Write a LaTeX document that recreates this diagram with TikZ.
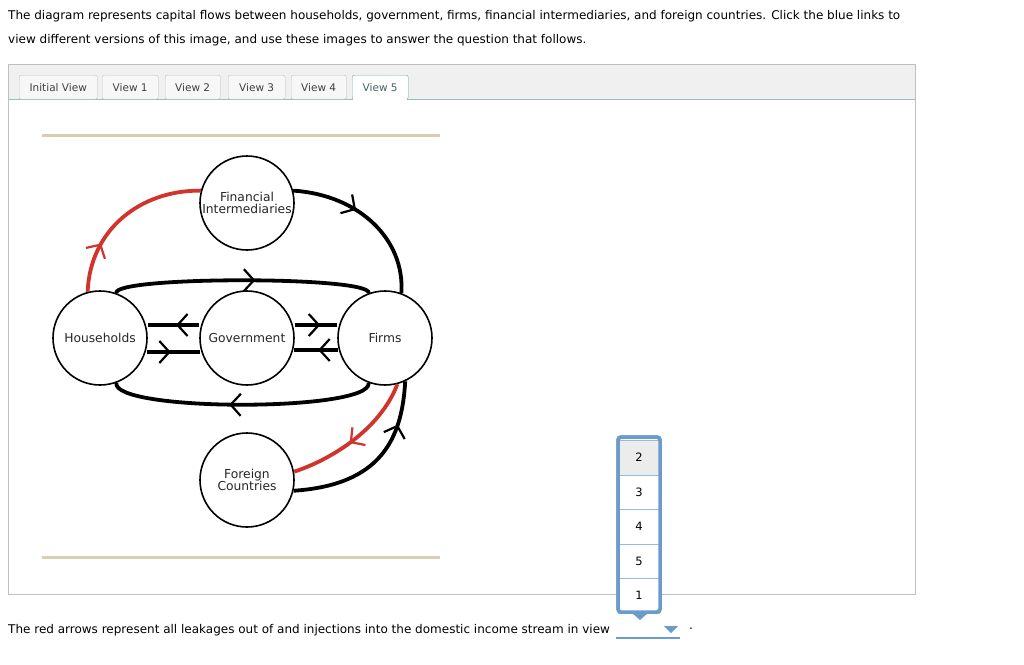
\documentclass[tikz,border=0pt]{standalone}
\usepackage{fontspec}
\setmainfont{DejaVu Sans}
\usetikzlibrary{arrows.meta,decorations.markings}
\definecolor{beige}{HTML}{D9CFB0}
\definecolor{dd}{HTML}{6A9BCB}
\definecolor{redf}{HTML}{D0342C}
\definecolor{teal}{HTML}{6FA3A3}
\tikzset{
  circ/.style={circle,draw,line width=1.6pt,minimum size=94pt,inner sep=0pt,font=\fontsize{12.3}{14}\selectfont,align=center,text=black!85},
  flow/.style={line width=3.8pt},
  midarr/.style={postaction={decorate},decoration={markings,mark=at position #1 with {\arrow[line width=2.2pt]{Straight Barb[length=10pt,width=22pt]}}}},
  tab/.style={draw=gray!50,fill=gray!6,rounded corners=2pt,minimum height=24pt,anchor=north west,font=\fontsize{10.5}{12}\selectfont,text=black!75,inner sep=0pt},
  txt/.style={anchor=west,font=\fontsize{12}{14}\selectfont,inner sep=0pt},
  item/.style={draw=dd!70,fill=white,minimum width=41pt,minimum height=34.5pt,anchor=north,font=\fontsize{11.5}{13}\selectfont,inner sep=0pt}
}
\begin{document}
\begin{tikzpicture}[x=1pt,y=-1pt]
\useasboundingbox (0,0) rectangle (1024,664);
\fill[white] (0,0) rectangle (1024,664);
\node[txt] (t1) at (8,16) {The diagram represents capital flows between households, government, firms, financial intermediaries, and foreign countries. Click the blue links to};
\node[txt] (t2) at (8,40) {view different versions of this image, and use these images to answer the question that follows.};
% panel
\draw[gray!50,fill=white] (8,64) rectangle (915,594);
\fill[gray!12] (8.5,64.5) rectangle (914.5,99);
\draw[teal!70] (8,99) -- (915,99);
\node[tab,minimum width=78pt] (i0) at (19,75) {Initial View};
\node[tab,minimum width=56pt] (i1) at (102,75) {View 1};
\node[tab,minimum width=55pt] (i2) at (165,75) {View 2};
\node[tab,minimum width=57pt] (i3) at (228,75) {View 3};
\node[tab,minimum width=55pt] (i4) at (291,75) {View 4};
\node[tab,minimum width=56pt,fill=white,draw=teal,text=teal!60!black] (i5) at (352,75) {View 5};
\fill[white] (353,98.2) rectangle (407,100);
% beige lines
\draw[beige,line width=3pt] (42,135) -- (440,135);
\draw[beige,line width=3pt] (42,557) -- (440,557);
% nodes
\node[circ] (H) at (100,338) {Households};
\node[circ] (G) at (247,338) {Government};
\node[circ] (F) at (385,338) {Firms};
\node[circ] (FI) at (247,203) {Financial\\[-2pt]Intermediaries};
\node[circ] (FC) at (247,480) {Foreign\\[-2pt]Countries};
% horizontal flows
\draw[flow,midarr=0.45] (G.west|-0,325) -- (H.east|-0,325) coordinate (a1);
\draw[flow,midarr=0.45] ([xshift=-1pt]H.east|-0,352) -- ([xshift=1pt]G.west|-0,352);
\draw[flow,midarr=0.6] (G.east|-0,325) -- (F.west|-0,325);
\draw[flow,midarr=0.45] ([xshift=1pt]F.west|-0,350) -- ([xshift=-1pt]G.east|-0,350);
% top & bottom loops
\draw[flow,midarr=0.55] (H.70) .. controls (112,276) and (372,276) .. (F.110);
\draw[flow,midarr=0.55] (F.250) .. controls (372,412) and (112,412) .. (H.290);
% red flows
\draw[redf,flow,midarr=0.3] (H.105) .. controls (90,230) and (140,190) .. (FI.165);
\draw[redf,flow,midarr=0.55] (F.285) .. controls (380,430) and (330,460) .. (FC.10);
% black outer flows
\draw[flow,midarr=0.4] (FI.15) .. controls (360,195) and (405,240) .. (F.70);
\draw[flow,midarr=0.75] (FC.347) .. controls (380,485) and (402,440) .. (F.295);
% bottom question
\node[txt] (q) at (8,630) {The red arrows represent all leakages out of and injections into the domestic income stream in view};
\draw[dd,line width=1.2pt] (616,638) -- (680,638);
\fill[dd] (664,626) -- (678,626) -- (671,633) -- cycle;
\node[txt] (dot) at (689,629) {.};
% dropdown
\draw[dd,line width=3.5pt,rounded corners=3pt,fill=white] (618,437) rectangle (660,612);
\fill[dd] (632,613) -- (648,613) -- (640,620) -- cycle;
\node[item,fill=gray!15] (o2) at (639,440) {2};
\node[item] (o3) at (639,474.5) {3};
\node[item] (o4) at (639,509) {4};
\node[item] (o5) at (639,543.5) {5};
\node[item] (o1) at (639,578) {1};
\draw[dd,line width=3.5pt,rounded corners=3pt] (618,437) rectangle (660,612);
\end{tikzpicture}
\end{document}
